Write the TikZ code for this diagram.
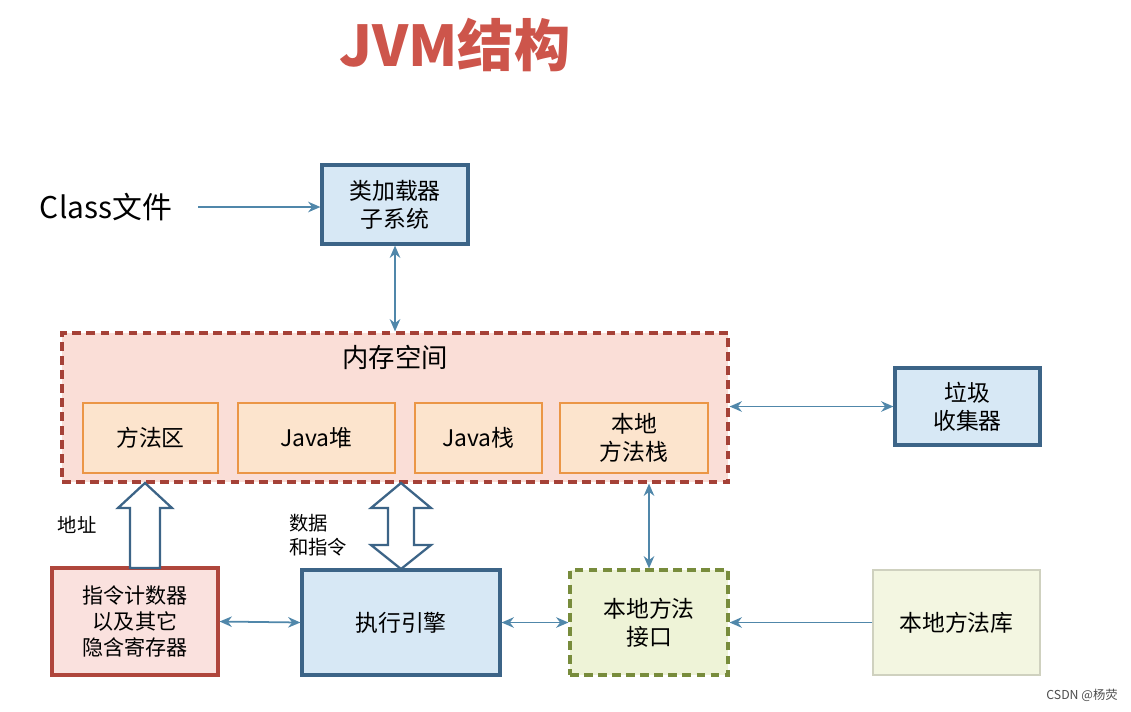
\documentclass[tikz,border=0pt]{standalone}
\usepackage{fontspec}
\setmainfont{Noto Sans CJK SC}
\usetikzlibrary{arrows.meta}
\definecolor{arr}{RGB}{80,135,170}
\definecolor{bluebd}{RGB}{60,100,135}
\definecolor{bluefill}{RGB}{215,232,245}
\definecolor{memfill}{RGB}{250,222,215}
\definecolor{membd}{RGB}{165,65,55}
\definecolor{orbd}{RGB}{235,150,70}
\definecolor{orfill}{RGB}{252,228,205}
\definecolor{pcbd}{RGB}{175,70,60}
\definecolor{pcfill}{RGB}{250,225,222}
\definecolor{grbd}{RGB}{120,140,60}
\definecolor{grfill}{RGB}{238,243,215}
\definecolor{libfill}{RGB}{243,246,225}
\definecolor{titlec}{RGB}{205,85,75}
\begin{document}
\begin{tikzpicture}[x=0.02cm,y=-0.02cm,
 box/.style={draw=bluebd,line width=1.8pt,fill=bluefill,align=center,font=\fontsize{13}{16}\selectfont,inner sep=0},
 inner/.style={draw=orbd,line width=1.5pt,fill=orfill,align=center,font=\fontsize{13}{16}\selectfont,inner sep=0},
 con/.style={draw=arr,line width=1pt,-{Stealth[length=7pt,width=6pt]}},
 dcon/.style={draw=arr,line width=1pt,{Stealth[length=7pt,width=6pt]}-{Stealth[length=7pt,width=6pt]}},
 hollow/.style={draw=bluebd,line width=1.3pt,fill=white},
 lbl/.style={font=\fontsize{11}{14}\selectfont,align=left}]
\useasboundingbox (0,0) rectangle (1131,711);
\node[text=titlec,font=\fontsize{32}{36}\selectfont\bfseries] (title) at (455,45) {JVM结构};
\node[font=\fontsize{17}{18}\selectfont] (cls) at (106,207) {Class文件};
\coordinate (clsend) at (198,207);
\node[box,minimum width=146*0.02cm,minimum height=79*0.02cm] (loader) at (395,204.5) {类加载器\\子系统};
\node[draw=membd,dashed,line width=1.8pt,fill=memfill,minimum width=666*0.02cm,minimum height=149*0.02cm,inner sep=0,dash pattern=on 5pt off 3pt] (mem) at (395,407.5) {};
\node[font=\fontsize{15}{18}\selectfont] (memlbl) at (395,357) {内存空间};
\node[inner,minimum width=135*0.02cm,minimum height=70*0.02cm] (ma) at (150.5,438) {方法区};
\node[inner,minimum width=157*0.02cm,minimum height=70*0.02cm] (heap) at (316.5,438) {Java堆};
\node[inner,minimum width=127*0.02cm,minimum height=70*0.02cm] (stack) at (478.5,438) {Java栈};
\node[inner,minimum width=148*0.02cm,minimum height=70*0.02cm] (nstack) at (634,438) {本地\\方法栈};
\node[box,minimum width=145*0.02cm,minimum height=77*0.02cm] (gc) at (967.5,406.5) {垃圾\\收集器};
\node[box,draw=pcbd,fill=pcfill,minimum width=166*0.02cm,minimum height=107*0.02cm,font=\fontsize{12}{15}\selectfont] (pc) at (135,621.5) {指令计数器\\以及其它\\隐含寄存器};
\node[box,minimum width=198*0.02cm,minimum height=105*0.02cm] (exec) at (401,622.5) {执行引擎};
\node[box,draw=grbd,fill=grfill,dashed,dash pattern=on 5pt off 3pt,minimum width=158*0.02cm,minimum height=105*0.02cm] (nif) at (649,622.5) {本地方法\\接口};
\node[box,draw=libfill!85!black,line width=0.6pt,fill=libfill,minimum width=167*0.02cm,minimum height=105*0.02cm] (nlib) at (956.5,622.5) {本地方法库};
\node[lbl] (addr) at (77,525) {地址};
\node[lbl] (data) at (318,535) {数据\\和指令};
\node[font=\fontsize{7}{8}\selectfont,text=black!70] (wm) at (1082,695) {CSDN @杨荧};
\draw[con] (clsend) -- (clsend -| loader.west);
\draw[dcon] (loader.south) -- (mem.north -| loader.south);
\draw[dcon] (mem.east |- gc.west) -- (gc.west);
\draw[dcon] (pc.east) -- (exec.west);
\draw[dcon] (exec.east) -- (nif.west);
\draw[con] (nlib.west) -- (nif.east);
\draw[dcon] (nif.north) -- (nif.north |- mem.south);
\draw[hollow] (130,568) -- (130,508) -- (118,508) -- (145,483) -- (172,508) -- (160,508) -- (160,568) -- cycle;
\draw[hollow] (388,508) -- (371,508) -- (401,483) -- (431,508) -- (414,508) -- (414,545) -- (431,545) -- (401,569) -- (371,545) -- (388,545) -- cycle;
\end{tikzpicture}
\end{document}
